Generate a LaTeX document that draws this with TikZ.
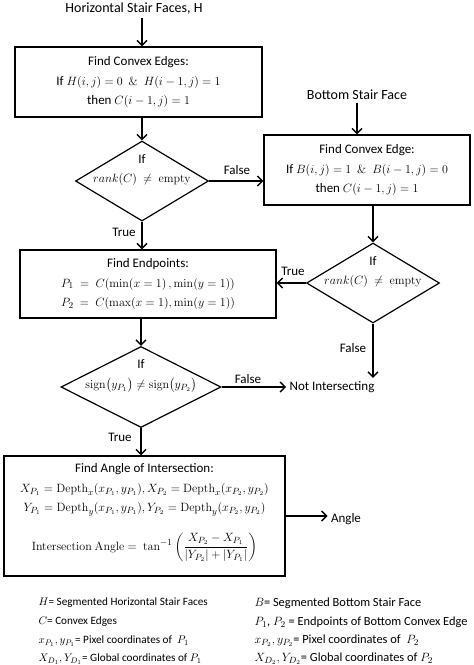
\documentclass[tikz,border=0pt]{standalone}
\usepackage{amsmath}
\usepackage[no-math]{fontspec}
\setmainfont{Carlito}
\usetikzlibrary{shapes.geometric,arrows.meta}

\begin{document}
\begin{tikzpicture}[x=1pt,y=-1pt,
  font=\fontsize{13}{19.5}\selectfont,
  stepbox/.style={draw,line width=1.2pt,align=center,inner sep=0pt},
  test/.style={draw,diamond,line width=1.2pt,inner sep=0pt},
  flow/.style={line width=1.4pt,-{Straight Barb[length=5pt,width=10pt,line width=1.4pt]}},
  lbl/.style={inner sep=1pt},
  input/.style={font=\fontsize{14}{17}\selectfont},
  key/.style={anchor=west,font=\fontsize{11.2}{15}\selectfont},
  keyr/.style={anchor=west,font=\fontsize{12.4}{15}\selectfont}]
  \useasboundingbox (0,0) rectangle (474,665);

  \node[input] (hsf) at (134,9) {Horizontal Stair Faces, H};
  \node[stepbox,minimum width=247pt,minimum height=70pt] (convex) at (138.5,82)
    {Find Convex Edges:\\
     If $H(i,j) = 0\ \ \&\ \ H(i-1,j) = 1$\\
     then $C(i-1,j) = 1$};
  \node[test,minimum width=133pt,minimum height=80pt] (rank1) at (142,181) {};
  \node[align=center] (rank1txt) at (142,170) {If\\ $rank(C)\ \neq\ \mathrm{empty}$};

  \node[input] (bsf) at (357,95) {Bottom Stair Face};
  \node[stepbox,minimum width=206pt,minimum height=70pt] (bottom) at (367,170)
    {Find Convex Edge:\\
     If $B(i,j) = 1\ \ \&\ \ B(i-1,j) = 0$\\
     then $C(i-1,j) = 1$};
  \node[test,minimum width=133pt,minimum height=80pt] (rank2) at (373,283) {};
  \node[align=center] (rank2txt) at (373,272) {If\\ $rank(C)\ \neq\ \mathrm{empty}$};

  \node[stepbox,minimum width=256pt,minimum height=68pt] (ends) at (148,284)
    {Find Endpoints:\\
     $P_1\ =\ C(\min(x=1)\,,\min(y=1))$\\
     $P_2\ =\ C(\max(x=1),\min(y=1))$};
  \node[test,minimum width=160pt,minimum height=81pt] (sign) at (141,387) {};
  \node[align=center] (signtxt) at (141,376)
    {If\\ $\operatorname{sign}\bigl(y_{P_1}\bigr) \neq \operatorname{sign}\bigl(y_{P_2}\bigr)$};
  \node (noint) at (332,387) {Not Intersecting};

  \node[stepbox,minimum width=281pt,minimum height=120pt] (angle) at (144.5,516) {};
  \node[align=center] (angletxt) at (144.5,490)
    {Find Angle of Intersection:\\
     $X_{P_1} = \mathrm{Depth}_x(x_{P_1},y_{P_1}), X_{P_2} = \mathrm{Depth}_x(x_{P_2},y_{P_2})$\\
     $Y_{P_1} = \mathrm{Depth}_y(x_{P_1},y_{P_1}), Y_{P_2} = \mathrm{Depth}_y(x_{P_2},y_{P_2})$};
  \node (anglefml) at (144.5,547)
    {$\mathrm{Intersection\ Angle} =\ \tan^{-1}\left(\dfrac{X_{P_2}-X_{P_1}}{\left|Y_{P_2}\right|+\left|Y_{P_1}\right|}\right)$};
  \node (out) at (346,519) {Angle};

  \draw[flow] (hsf.south -| rank1) -- (convex.north -| rank1);
  \draw[flow] (convex.south -| rank1) -- (rank1.north);
  \draw[flow] (rank1.east) -- (rank1.east -| bottom.west);
  \draw[flow] (bsf.south) -- (bsf.south |- bottom.north);
  \draw[flow] (bottom.south -| rank2) -- (rank2.north);
  \draw[flow] (rank2.west) -- (rank2.west -| ends.east);
  \draw[flow] (rank2.south) -- (rank2.south |- noint.north);
  \draw[flow] (rank1.south) -- (ends.north -| rank1);
  \draw[flow] (ends.south -| sign) -- (sign.north);
  \draw[flow] (sign.east) -- (noint.west);
  \draw[flow] (sign.south) -- (sign.south |- angle.north);
  \draw[flow] (angle.east) -- (angle.east -| out.west);

  \node[lbl] (f1) at (237,170) {False};
  \node[lbl] (t1) at (124,232) {True};
  \node[lbl] (t2) at (293,271) {True};
  \node[lbl] (f2) at (353,348) {False};
  \node[lbl] (f3) at (248,379) {False};
  \node[lbl] (t3) at (120,437) {True};

  \node[key] (keyh) at (35,603) {$H$= Segmented Horizontal Stair Faces};
  \node[key] (keyc) at (35,622) {$C$= Convex Edges};
  \node[key] (keyp1) at (35,641) {$x_{P_1}, y_{P_1}$= Pixel coordinates of \ $P_1$};
  \node[key] (keyd1) at (35,659) {$X_{D_1}, Y_{D_1}$= Global coordinates of $P_1$};
  \node[keyr] (keyb) at (251,603) {$B$= Segmented Bottom Stair Face};
  \node[keyr] (keyp) at (251,622) {$P_1$, $P_2$ = Endpoints of Bottom Convex Edge};
  \node[keyr] (keyp2) at (251,641) {$x_{P_2}, y_{P_2}$= Pixel coordinates of \ $P_2$};
  \node[keyr] (keyd2) at (251,659) {$X_{D_2}, Y_{D_2}$= Global coordinates of $P_2$};
\end{tikzpicture}
\end{document}
